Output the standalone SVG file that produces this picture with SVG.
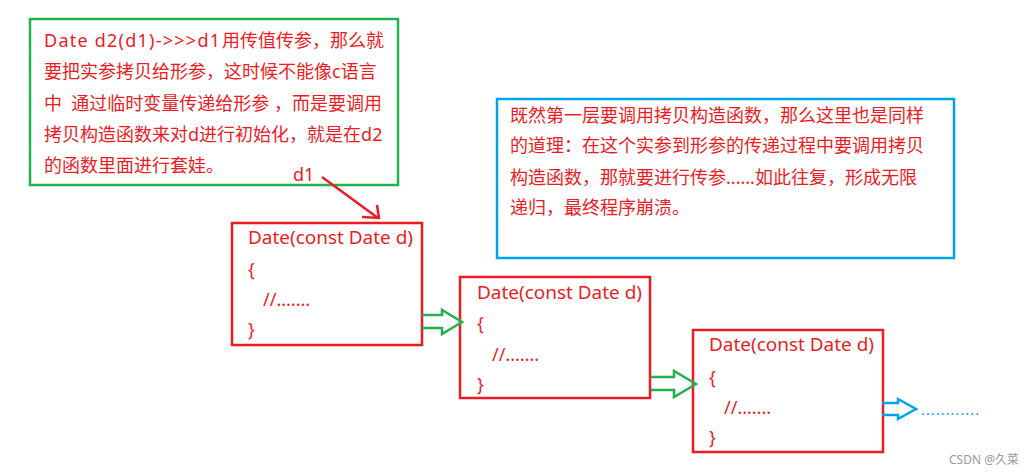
<svg xmlns="http://www.w3.org/2000/svg" width="1032" height="475" viewBox="0 0 1032 475">
<style>
.t{font-family:"Noto Sans","Noto Sans CJK SC",sans-serif;font-size:18px;fill:#ed1c24}
.c{font-family:"Noto Sans","Noto Sans CJK SC",sans-serif;font-size:18px;fill:#ed1c24}
.box{fill:none;stroke:#ed1c24;stroke-width:2.5}
.ga{fill:none;stroke:#22b14c;stroke-width:2.5;stroke-linejoin:miter}
.ba{fill:none;stroke:#00a2e8;stroke-width:2.5}
</style>
<rect width="1032" height="475" fill="#fff"/>
<g id="note1">
<rect x="30" y="19" width="368" height="166" fill="none" stroke="#22b14c" stroke-width="2.5"/>
<text class="t" x="44" y="47"><tspan textLength="176" lengthAdjust="spacing">Date d2(d1)-&gt;&gt;&gt;d1</tspan><tspan x="222">用传值传参，那么就</tspan></text>
<text class="t" x="44" y="78">要把实参拷贝给形参，这时候不能像c语言</text>
<text class="t" x="44" y="110" xml:space="preserve">中  通过临时变量传递给形参 ，而是要调用</text>
<text class="t" x="44" y="141">拷贝构造函数来对d进行初始化，就是在d2</text>
<text class="t" x="44" y="172">的函数里面进行套娃。</text>
</g>
<g id="note2">
<rect x="497" y="99" width="457" height="159" fill="none" stroke="#00a2e8" stroke-width="2.5"/>
<text class="t" x="510" y="122">既然第一层要调用拷贝构造函数，那么这里也是同样</text>
<text class="t" x="510" y="152">的道理：在这个实参到形参的传递过程中要调用拷贝</text>
<text class="t" x="510" y="184">构造函数，那就要进行传参......如此往复，形成无限</text>
<text class="t" x="510" y="214">递归，最终程序崩溃。</text>
</g>
<g id="d1label">
<text class="t" x="293" y="181">d1</text>
</g>
<g id="frame1">
<rect class="box" x="232" y="223" width="190" height="122"/>
<text class="c" x="248" y="244" textLength="165" lengthAdjust="spacingAndGlyphs">Date(const Date d)</text>
<text class="c" x="248" y="276">{</text>
<text class="c" x="263" y="306">//.......</text>
<text class="c" x="248" y="336">}</text>
</g>
<g id="frame2">
<rect class="box" x="460" y="277" width="190" height="121"/>
<text class="c" x="477" y="299" textLength="165" lengthAdjust="spacingAndGlyphs">Date(const Date d)</text>
<text class="c" x="477" y="330">{</text>
<text class="c" x="492" y="361">//.......</text>
<text class="c" x="477" y="391">}</text>
</g>
<g id="frame3">
<rect class="box" x="693" y="330" width="190" height="122"/>
<text class="c" x="709" y="351" textLength="165" lengthAdjust="spacingAndGlyphs">Date(const Date d)</text>
<text class="c" x="709" y="384">{</text>
<text class="c" x="724" y="414">//.......</text>
<text class="c" x="709" y="444">}</text>
</g>
<g id="connectors">
<path d="M322,177 L378,218 M362,217 L379,218 L377,205" fill="none" stroke="#ed1c24" stroke-width="2.5"/>
<path class="ga" d="M422,315 L442,315 L442,310 L462,322 L442,334 L442,328 L422,328"/>
<path class="ga" d="M651,377 L674,377 L674,371 L696,384 L674,397 L674,390 L651,390"/>
<path class="ba" d="M882,403 L898,403 L898,399 L916,409 L898,419 L898,415 L882,415"/>
<text x="921" y="415" font-family="'Noto Sans',sans-serif" font-size="14" fill="#00a2e8" textLength="58" lengthAdjust="spacing">............</text>
</g>
<text x="949" y="464" font-family="'Noto Sans','Noto Sans CJK SC',sans-serif" font-size="12" fill="#9a9a9a">CSDN @久菜</text>
</svg>
